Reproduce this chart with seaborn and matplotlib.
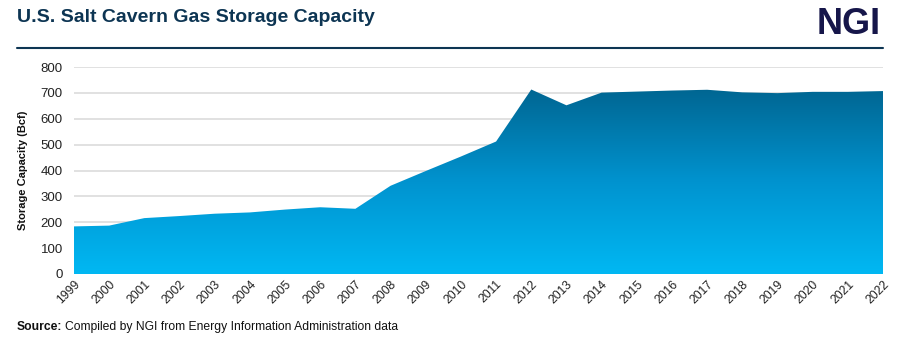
import numpy as np
import pandas as pd
import matplotlib
matplotlib.use("Agg")
import matplotlib.pyplot as plt
from matplotlib.colors import LinearSegmentedColormap
import seaborn as sns

years = list(range(1999, 2023))
capacity_bcf = [184, 187, 216, 224, 233, 238, 249, 258, 252, 341, 398, 454, 512, 713, 652,
                701, 705, 709, 712, 702, 699, 704, 704, 707]
y_ticks = [0, 100, 200, 300, 400, 500, 600, 700, 800]

title = "U.S. Salt Cavern Gas Storage Capacity"
y_label = "Storage Capacity (Bcf)"
source_bold = "Source:"
source_text = "Compiled by NGI from Energy Information Administration data"
brand = "NGI"

df = pd.DataFrame({"year": years, "capacity": capacity_bcf})

sns.set_theme(style="white")
plt.rcParams["font.family"] = ["Liberation Sans", "DejaVu Sans"]

navy = "#0d3553"
fig = plt.figure(figsize=(9, 3.45), dpi=100)
ax = fig.add_axes([74 / 900, 1 - 274 / 345, (883 - 74) / 900, (274 - 67) / 345])

sns.lineplot(data=df, x="year", y="capacity", ax=ax, linewidth=0, color="#006894")

# gradient-filled area
poly = ax.fill_between(df["year"], 0, df["capacity"], color="none", lw=0)
cmap = LinearSegmentedColormap.from_list("depth", ["#00b8f3", "#0093cf", "#006692"])
grad = np.linspace(0, 1, 256).reshape(-1, 1)
top = max(capacity_bcf)
img = ax.imshow(grad, cmap=cmap, aspect="auto", origin="lower",
                extent=[years[0], years[-1], 0, top], zorder=2)
path = poly.get_paths()[0]
img.set_clip_path(path, transform=ax.transData)

ax.set_xlim(years[0], years[-1])
ax.set_ylim(0, 800)
ax.set_yticks(y_ticks)
ax.set_xticks(years)
ax.set_xticklabels([str(y) for y in years], rotation=45, ha="right",
                   rotation_mode="anchor", fontsize=8.7, color="#222222")
ax.tick_params(axis="y", labelsize=9.5, labelcolor="#222222", pad=8, length=0)
ax.tick_params(axis="x", pad=3, length=0)
ax.grid(axis="y", color="#dcdcdc", linewidth=1.2, zorder=0)
ax.set_axisbelow(True)
for s in ax.spines.values():
    s.set_visible(False)
ax.set_xlabel("")
ax.set_ylabel(y_label, fontsize=8, fontweight="bold", color="#111111", labelpad=9)

fig.text(17 / 900, 1 - 17 / 345, title, fontsize=14, fontweight="bold",
         color=navy, va="center", ha="left")
fig.text(881 / 900, 1 - 24 / 345, brand, fontsize=26, fontweight="bold",
         color="#16164a", va="center", ha="right")
fig.add_artist(plt.Line2D([17 / 900, 883 / 900], [1 - 48 / 345, 1 - 48 / 345],
                          color=navy, linewidth=1.5))

t = fig.text(17 / 900, 1 - 327 / 345, source_bold, fontsize=8.7, fontweight="bold",
             color="#111111", va="center", ha="left")
fig.canvas.draw()
bb = t.get_window_extent()
fig.text((bb.x1 + 3) / fig.bbox.width, 1 - 327 / 345, source_text, fontsize=8.7,
         color="#111111", va="center", ha="left")

fig.savefig("out.png", dpi=100)
